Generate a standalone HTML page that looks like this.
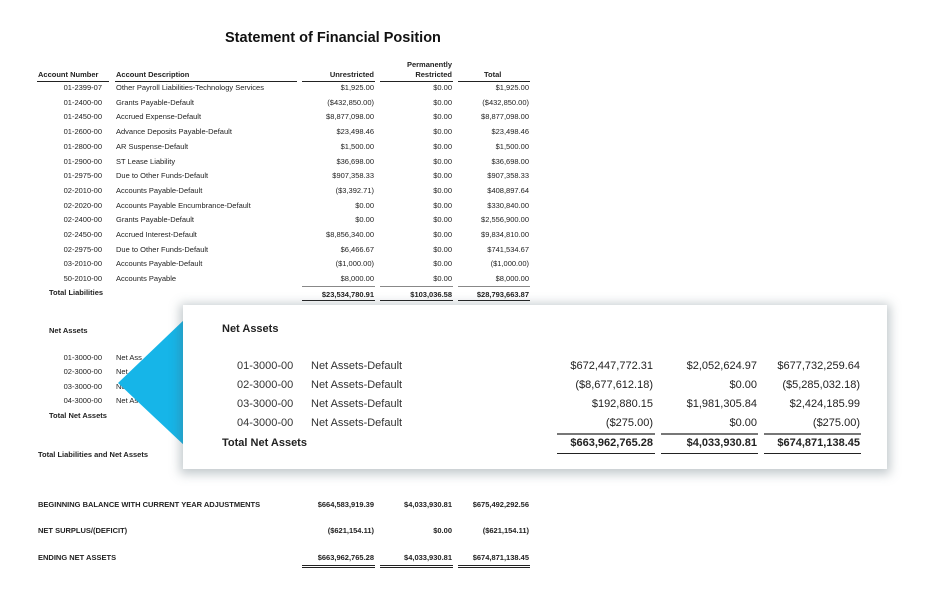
<!DOCTYPE html>
<html><head><meta charset="utf-8"><style>
body{margin:0;width:936px;height:591px;background:#fff;position:relative;overflow:hidden;font-family:"Liberation Sans",sans-serif;color:#222}
.t{position:absolute;white-space:nowrap;font-size:7.5px;line-height:10px}
.r{text-align:right}
.b{font-weight:bold}
.l{position:absolute;height:1px;background:#222}
.g{position:absolute;height:2px;background:#777}
</style></head><body>
<div class="t b" style="left:225px;top:29px;font-size:14.5px;line-height:18px;color:#111">Statement of Financial Position</div>

<div class="t b" style="left:38px;top:70px">Account Number</div>
<div class="t b" style="left:116px;top:70px">Account Description</div>
<div class="t b r" style="left:300px;width:74px;top:70px">Unrestricted</div>
<div class="t b r" style="left:380px;width:72px;top:60px">Permanently</div>
<div class="t b r" style="left:380px;width:72px;top:70px">Restricted</div>
<div class="t b" style="left:484px;top:70px">Total</div>
<div class="l" style="left:37px;top:81px;width:72px"></div>
<div class="l" style="left:115px;top:81px;width:182px"></div>
<div class="l" style="left:302px;top:81px;width:73px"></div>
<div class="l" style="left:380px;top:81px;width:73px"></div>
<div class="l" style="left:458px;top:81px;width:72px"></div>

<div style="position:absolute;left:0;top:83px">
<div class="t r" style="left:38px;width:64px;top:0">01-2399-07</div><div class="t" style="left:116px;top:0">Other Payroll Liabilities-Technology Services</div><div class="t r" style="left:300px;width:74px;top:0">$1,925.00</div><div class="t r" style="left:380px;width:72px;top:0">$0.00</div><div class="t r" style="left:458px;width:71px;top:0">$1,925.00</div>
<div class="t r" style="left:38px;width:64px;top:14.7px">01-2400-00</div><div class="t" style="left:116px;top:14.7px">Grants Payable-Default</div><div class="t r" style="left:300px;width:74px;top:14.7px">($432,850.00)</div><div class="t r" style="left:380px;width:72px;top:14.7px">$0.00</div><div class="t r" style="left:458px;width:71px;top:14.7px">($432,850.00)</div>
<div class="t r" style="left:38px;width:64px;top:29.4px">01-2450-00</div><div class="t" style="left:116px;top:29.4px">Accrued Expense-Default</div><div class="t r" style="left:300px;width:74px;top:29.4px">$8,877,098.00</div><div class="t r" style="left:380px;width:72px;top:29.4px">$0.00</div><div class="t r" style="left:458px;width:71px;top:29.4px">$8,877,098.00</div>
<div class="t r" style="left:38px;width:64px;top:44.1px">01-2600-00</div><div class="t" style="left:116px;top:44.1px">Advance Deposits Payable-Default</div><div class="t r" style="left:300px;width:74px;top:44.1px">$23,498.46</div><div class="t r" style="left:380px;width:72px;top:44.1px">$0.00</div><div class="t r" style="left:458px;width:71px;top:44.1px">$23,498.46</div>
<div class="t r" style="left:38px;width:64px;top:58.8px">01-2800-00</div><div class="t" style="left:116px;top:58.8px">AR Suspense-Default</div><div class="t r" style="left:300px;width:74px;top:58.8px">$1,500.00</div><div class="t r" style="left:380px;width:72px;top:58.8px">$0.00</div><div class="t r" style="left:458px;width:71px;top:58.8px">$1,500.00</div>
<div class="t r" style="left:38px;width:64px;top:73.5px">01-2900-00</div><div class="t" style="left:116px;top:73.5px">ST Lease Liability</div><div class="t r" style="left:300px;width:74px;top:73.5px">$36,698.00</div><div class="t r" style="left:380px;width:72px;top:73.5px">$0.00</div><div class="t r" style="left:458px;width:71px;top:73.5px">$36,698.00</div>
<div class="t r" style="left:38px;width:64px;top:88.2px">01-2975-00</div><div class="t" style="left:116px;top:88.2px">Due to Other Funds-Default</div><div class="t r" style="left:300px;width:74px;top:88.2px">$907,358.33</div><div class="t r" style="left:380px;width:72px;top:88.2px">$0.00</div><div class="t r" style="left:458px;width:71px;top:88.2px">$907,358.33</div>
<div class="t r" style="left:38px;width:64px;top:102.9px">02-2010-00</div><div class="t" style="left:116px;top:102.9px">Accounts Payable-Default</div><div class="t r" style="left:300px;width:74px;top:102.9px">($3,392.71)</div><div class="t r" style="left:380px;width:72px;top:102.9px">$0.00</div><div class="t r" style="left:458px;width:71px;top:102.9px">$408,897.64</div>
<div class="t r" style="left:38px;width:64px;top:117.6px">02-2020-00</div><div class="t" style="left:116px;top:117.6px">Accounts Payable Encumbrance-Default</div><div class="t r" style="left:300px;width:74px;top:117.6px">$0.00</div><div class="t r" style="left:380px;width:72px;top:117.6px">$0.00</div><div class="t r" style="left:458px;width:71px;top:117.6px">$330,840.00</div>
<div class="t r" style="left:38px;width:64px;top:132.3px">02-2400-00</div><div class="t" style="left:116px;top:132.3px">Grants Payable-Default</div><div class="t r" style="left:300px;width:74px;top:132.3px">$0.00</div><div class="t r" style="left:380px;width:72px;top:132.3px">$0.00</div><div class="t r" style="left:458px;width:71px;top:132.3px">$2,556,900.00</div>
<div class="t r" style="left:38px;width:64px;top:147px">02-2450-00</div><div class="t" style="left:116px;top:147px">Accrued Interest-Default</div><div class="t r" style="left:300px;width:74px;top:147px">$8,856,340.00</div><div class="t r" style="left:380px;width:72px;top:147px">$0.00</div><div class="t r" style="left:458px;width:71px;top:147px">$9,834,810.00</div>
<div class="t r" style="left:38px;width:64px;top:161.7px">02-2975-00</div><div class="t" style="left:116px;top:161.7px">Due to Other Funds-Default</div><div class="t r" style="left:300px;width:74px;top:161.7px">$6,466.67</div><div class="t r" style="left:380px;width:72px;top:161.7px">$0.00</div><div class="t r" style="left:458px;width:71px;top:161.7px">$741,534.67</div>
<div class="t r" style="left:38px;width:64px;top:176.4px">03-2010-00</div><div class="t" style="left:116px;top:176.4px">Accounts Payable-Default</div><div class="t r" style="left:300px;width:74px;top:176.4px">($1,000.00)</div><div class="t r" style="left:380px;width:72px;top:176.4px">$0.00</div><div class="t r" style="left:458px;width:71px;top:176.4px">($1,000.00)</div>
<div class="t r" style="left:38px;width:64px;top:191.1px">50-2010-00</div><div class="t" style="left:116px;top:191.1px">Accounts Payable</div><div class="t r" style="left:300px;width:74px;top:191.1px">$8,000.00</div><div class="t r" style="left:380px;width:72px;top:191.1px">$0.00</div><div class="t r" style="left:458px;width:71px;top:191.1px">$8,000.00</div>
</div>
<div class="l" style="left:302px;top:286px;width:73px;background:#888"></div>
<div class="l" style="left:380px;top:286px;width:73px;background:#888"></div>
<div class="l" style="left:458px;top:286px;width:72px;background:#888"></div>
<div class="t b" style="left:49px;top:288px">Total Liabilities</div>
<div class="t b r" style="left:300px;width:74px;top:290px">$23,534,780.91</div>
<div class="t b r" style="left:380px;width:72px;top:290px">$103,036.58</div>
<div class="t b r" style="left:458px;width:71px;top:290px">$28,793,663.87</div>
<div class="l" style="left:302px;top:300px;width:73px"></div>
<div class="l" style="left:380px;top:300px;width:73px"></div>
<div class="l" style="left:458px;top:300px;width:72px"></div>

<div class="t b" style="left:49px;top:326px">Net Assets</div>
<div class="t r" style="left:38px;width:64px;top:353px">01-3000-00</div><div class="t" style="left:116px;top:353px">Net Ass</div>
<div class="t r" style="left:38px;width:64px;top:367px">02-3000-00</div><div class="t" style="left:116px;top:367px">Net</div>
<div class="t r" style="left:38px;width:64px;top:382px">03-3000-00</div><div class="t" style="left:116px;top:382px">Net</div>
<div class="t r" style="left:38px;width:64px;top:396px">04-3000-00</div><div class="t" style="left:116px;top:396px">Net As</div>
<div class="t b" style="left:49px;top:411px">Total Net Assets</div>
<div class="t b" style="left:38px;top:450px">Total Liabilities and Net Assets</div>

<svg style="position:absolute;left:0;top:0" width="936" height="591"><polygon points="118,383 186,318 186,447" fill="#16b5e8"/></svg>

<div style="position:absolute;left:183px;top:305px;width:704px;height:164px;background:#fff;box-shadow:0 2px 10px 3px rgba(80,100,110,0.35)"></div>
<div style="position:absolute;left:0;top:0;font-size:11px">
<div class="t b" style="left:222px;top:323px;font-size:11px;line-height:13px;color:#222">Net Assets</div>
<div class="t" style="left:237px;top:360px;font-size:11px;line-height:13px;color:#333">01-3000-00</div><div class="t" style="left:311px;top:360px;font-size:11px;line-height:13px;color:#333">Net Assets-Default</div>
<div class="t" style="left:237px;top:379px;font-size:11px;line-height:13px;color:#333">02-3000-00</div><div class="t" style="left:311px;top:379px;font-size:11px;line-height:13px;color:#333">Net Assets-Default</div>
<div class="t" style="left:237px;top:398px;font-size:11px;line-height:13px;color:#333">03-3000-00</div><div class="t" style="left:311px;top:398px;font-size:11px;line-height:13px;color:#333">Net Assets-Default</div>
<div class="t" style="left:237px;top:417px;font-size:11px;line-height:13px;color:#333">04-3000-00</div><div class="t" style="left:311px;top:417px;font-size:11px;line-height:13px;color:#333">Net Assets-Default</div>
<div class="t b" style="left:222px;top:437px;font-size:11px;line-height:13px;color:#222">Total Net Assets</div>

<div class="t r" style="left:540px;width:113px;top:360px;font-size:11px;line-height:13px">$672,447,772.31</div>
<div class="t r" style="left:660px;width:97px;top:360px;font-size:11px;line-height:13px">$2,052,624.97</div>
<div class="t r" style="left:760px;width:100px;top:360px;font-size:11px;line-height:13px">$677,732,259.64</div>
<div class="t r" style="left:540px;width:113px;top:379px;font-size:11px;line-height:13px">($8,677,612.18)</div>
<div class="t r" style="left:660px;width:97px;top:379px;font-size:11px;line-height:13px">$0.00</div>
<div class="t r" style="left:760px;width:100px;top:379px;font-size:11px;line-height:13px">($5,285,032.18)</div>
<div class="t r" style="left:540px;width:113px;top:398px;font-size:11px;line-height:13px">$192,880.15</div>
<div class="t r" style="left:660px;width:97px;top:398px;font-size:11px;line-height:13px">$1,981,305.84</div>
<div class="t r" style="left:760px;width:100px;top:398px;font-size:11px;line-height:13px">$2,424,185.99</div>
<div class="t r" style="left:540px;width:113px;top:417px;font-size:11px;line-height:13px">($275.00)</div>
<div class="t r" style="left:660px;width:97px;top:417px;font-size:11px;line-height:13px">$0.00</div>
<div class="t r" style="left:760px;width:100px;top:417px;font-size:11px;line-height:13px">($275.00)</div>
<div class="g" style="left:557px;top:433px;width:98px"></div>
<div class="g" style="left:661px;top:433px;width:97px"></div>
<div class="g" style="left:764px;top:433px;width:97px"></div>
<div class="t b r" style="left:540px;width:113px;top:437px;font-size:11px;line-height:13px">$663,962,765.28</div>
<div class="t b r" style="left:660px;width:97px;top:437px;font-size:11px;line-height:13px">$4,033,930.81</div>
<div class="t b r" style="left:760px;width:100px;top:437px;font-size:11px;line-height:13px">$674,871,138.45</div>
<div class="l" style="left:557px;top:453px;width:98px"></div>
<div class="l" style="left:661px;top:453px;width:97px"></div>
<div class="l" style="left:764px;top:453px;width:97px"></div>
</div>

<div class="t b" style="left:38px;top:500px">BEGINNING BALANCE WITH CURRENT YEAR ADJUSTMENTS</div>
<div class="t b r" style="left:300px;width:74px;top:500px">$664,583,919.39</div>
<div class="t b r" style="left:380px;width:72px;top:500px">$4,033,930.81</div>
<div class="t b r" style="left:458px;width:71px;top:500px">$675,492,292.56</div>
<div class="t b" style="left:38px;top:526px">NET SURPLUS/(DEFICIT)</div>
<div class="t b r" style="left:300px;width:74px;top:526px">($621,154.11)</div>
<div class="t b r" style="left:380px;width:72px;top:526px">$0.00</div>
<div class="t b r" style="left:458px;width:71px;top:526px">($621,154.11)</div>
<div class="t b" style="left:38px;top:553px">ENDING NET ASSETS</div>
<div class="t b r" style="left:300px;width:74px;top:553px">$663,962,765.28</div>
<div class="t b r" style="left:380px;width:72px;top:553px">$4,033,930.81</div>
<div class="t b r" style="left:458px;width:71px;top:553px">$674,871,138.45</div>
<div class="l" style="left:302px;top:565px;width:73px"></div>
<div class="l" style="left:380px;top:565px;width:73px"></div>
<div class="l" style="left:458px;top:565px;width:72px"></div>
<div class="l" style="left:302px;top:567px;width:73px"></div>
<div class="l" style="left:380px;top:567px;width:73px"></div>
<div class="l" style="left:458px;top:567px;width:72px"></div>
</body></html>
